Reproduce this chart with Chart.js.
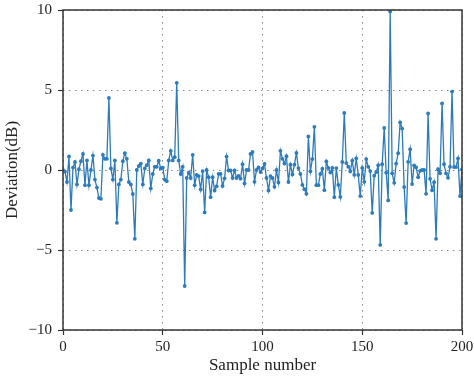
<!DOCTYPE html>
<html>
<head>
<meta charset="utf-8">
<script src="https://cdn.jsdelivr.net/npm/chart.js@4.4.1/dist/chart.umd.min.js"></script>
<style>
  html, body { margin: 0; padding: 0; background: #fff; }
  canvas { display: block; }
</style>
</head>
<body>
<canvas id="myChart" width="474" height="387"></canvas>
<script>
// tick values of both axes
const sampleTicks = [0, 50, 100, 150, 200];
const deviationTicks = [-10, -5, 0, 5, 10];

// deviation (dB) per sample number (samples 0..200)
const deviation = [
  0.0, -0.1, -0.75, 0.85, -2.5, 0.15, 0.5, -0.9, 0.05, 0.55,
  1.0, -0.95, 0.6, -0.95, 0.0, 0.9, -0.6, -1.1, -1.75, -1.8,
  0.95, 0.7, 0.7, 4.5, 0.1, -0.6, 0.6, -3.3, -0.9, -0.6,
  0.55, 1.05, 0.7, -0.75, -0.9, -1.5, -4.3, 0.0, 0.25, 0.4,
  -0.9, 0.1, 0.3, 0.6, -1.15, -0.25, 0.2, 0.2, 0.58, 0.1,
  0.15, -0.6, -0.7, 0.6, 1.2, 0.6, 0.8, 5.45, 0.6, -0.25,
  0.2, -7.25, -0.5, -0.17, -0.5, 0.95, -0.95, -0.3, -0.38, -1.22,
  -0.07, -2.65, 0.0, -0.45, -1.7, -0.45, -1.28, -1.02, -0.24, -0.24,
  -1.0, -0.52, 0.84, -0.03, -0.03, -0.5, -0.02, -0.5, -0.37, -0.54,
  0.36, -0.84, 0.0, 0.0, 1.0, 1.13, -0.74, 0.0, 0.16, -0.13,
  0.1, 0.38, -0.5, -1.28, -0.38, -0.5, -1.05, 0.0, -0.78, 1.2,
  0.7, 0.4, 0.86, -0.75, 0.33, -0.28, 0.33, 1.07, 0.12, -0.25,
  -0.93, -1.2, -1.49, 2.1, -0.08, 0.68, 2.7, -0.95, -0.95, -0.25,
  0.08, -1.26, 0.53, 0.13, -0.16, 0.13, -1.7, 0.12, -0.93, -1.68,
  0.5, 3.57, 0.43, 0.21, -0.09, 0.59, -0.3, 0.73, -0.31, -1.63,
  0.13, -0.74, 0.68, 0.2, -0.07, -2.68, -0.36, -0.13, 0.3, -4.68,
  0.36, 2.63, -0.16, -1.9, 9.9, -0.21, -0.8, 0.4, 1.05, 2.97,
  2.59, -1.07, -3.32, 0.51, 1.3, -0.88, 0.28, 0.16, -0.45, -0.05,
  0.0, 0.0, -1.49, 3.53, -0.55, -1.26, -0.76, -4.3, 0.05, -0.2,
  4.16, 0.36, -0.21, -0.49, 0.2, 4.9, 0.18, 0.18, 0.72, -1.63,
  0.04
];

const lineColor = '#2b7bbd';
const axisColor = '#333333';
const serif = 'Liberation Serif, Times New Roman, serif';

const frame = {
  id: 'frame',
  afterDraw(chart) {
    const { ctx, chartArea } = chart;
    ctx.save();
    ctx.strokeStyle = axisColor;
    ctx.lineWidth = 1.5;
    ctx.strokeRect(chartArea.left, chartArea.top,
      chartArea.right - chartArea.left, chartArea.bottom - chartArea.top);
    ctx.restore();
  }
};

const minusSign = v => String(v).replace('-', '\u2212');

const ctx = document.getElementById('myChart').getContext('2d');
new Chart(ctx, {
  type: 'scatter',
  data: {
    datasets: [{
      data: deviation.map((v, i) => ({ x: i, y: v })),
      showLine: true,
      borderColor: lineColor,
      backgroundColor: lineColor,
      borderWidth: 1.3,
      pointRadius: 1.9,
      pointBorderWidth: 0,
      tension: 0
    }]
  },
  options: {
    responsive: false,
    animation: false,
    layout: { padding: { left: 2, right: 12, top: 10, bottom: 11 } },
    scales: {
      x: {
        type: 'linear',
        min: 0,
        max: 200,
        afterBuildTicks: s => { s.ticks = sampleTicks.map(v => ({ value: v })); },
        afterFit: s => { s.height = 46; s.paddingLeft = 0; s.paddingRight = 0; },
        ticks: {
          color: '#222',
          padding: 3,
          maxRotation: 0,
          font: { family: serif, size: 15 }
        },
        grid: {
          color: '#8a8a8a',
          lineWidth: 1,
          tickColor: axisColor,
          tickLength: 5,
          tickWidth: 1.2
        },
        border: { display: false, dash: [1.5, 4.5] },
        title: {
          display: true,
          text: 'Sample number',
          color: '#222',
          padding: 0,
          font: { family: serif, size: 17 }
        }
      },
      y: {
        min: -10,
        max: 10,
        afterBuildTicks: s => { s.ticks = deviationTicks.map(v => ({ value: v })); },
        afterFit: s => { s.width = 61; s.paddingTop = 0; s.paddingBottom = 0; },
        ticks: {
          color: '#222',
          padding: 6,
          callback: minusSign,
          font: { family: serif, size: 15 }
        },
        grid: {
          color: '#8a8a8a',
          lineWidth: 1,
          tickColor: axisColor,
          tickLength: 5,
          tickWidth: 1.2
        },
        border: { display: false, dash: [1.5, 4.5] },
        title: {
          display: true,
          text: 'Deviation(dB)',
          color: '#222',
          padding: 0,
          font: { family: serif, size: 17 }
        }
      }
    },
    plugins: {
      legend: { display: false },
      tooltip: { enabled: false }
    }
  },
  plugins: [frame]
});
</script>
</body>
</html>
